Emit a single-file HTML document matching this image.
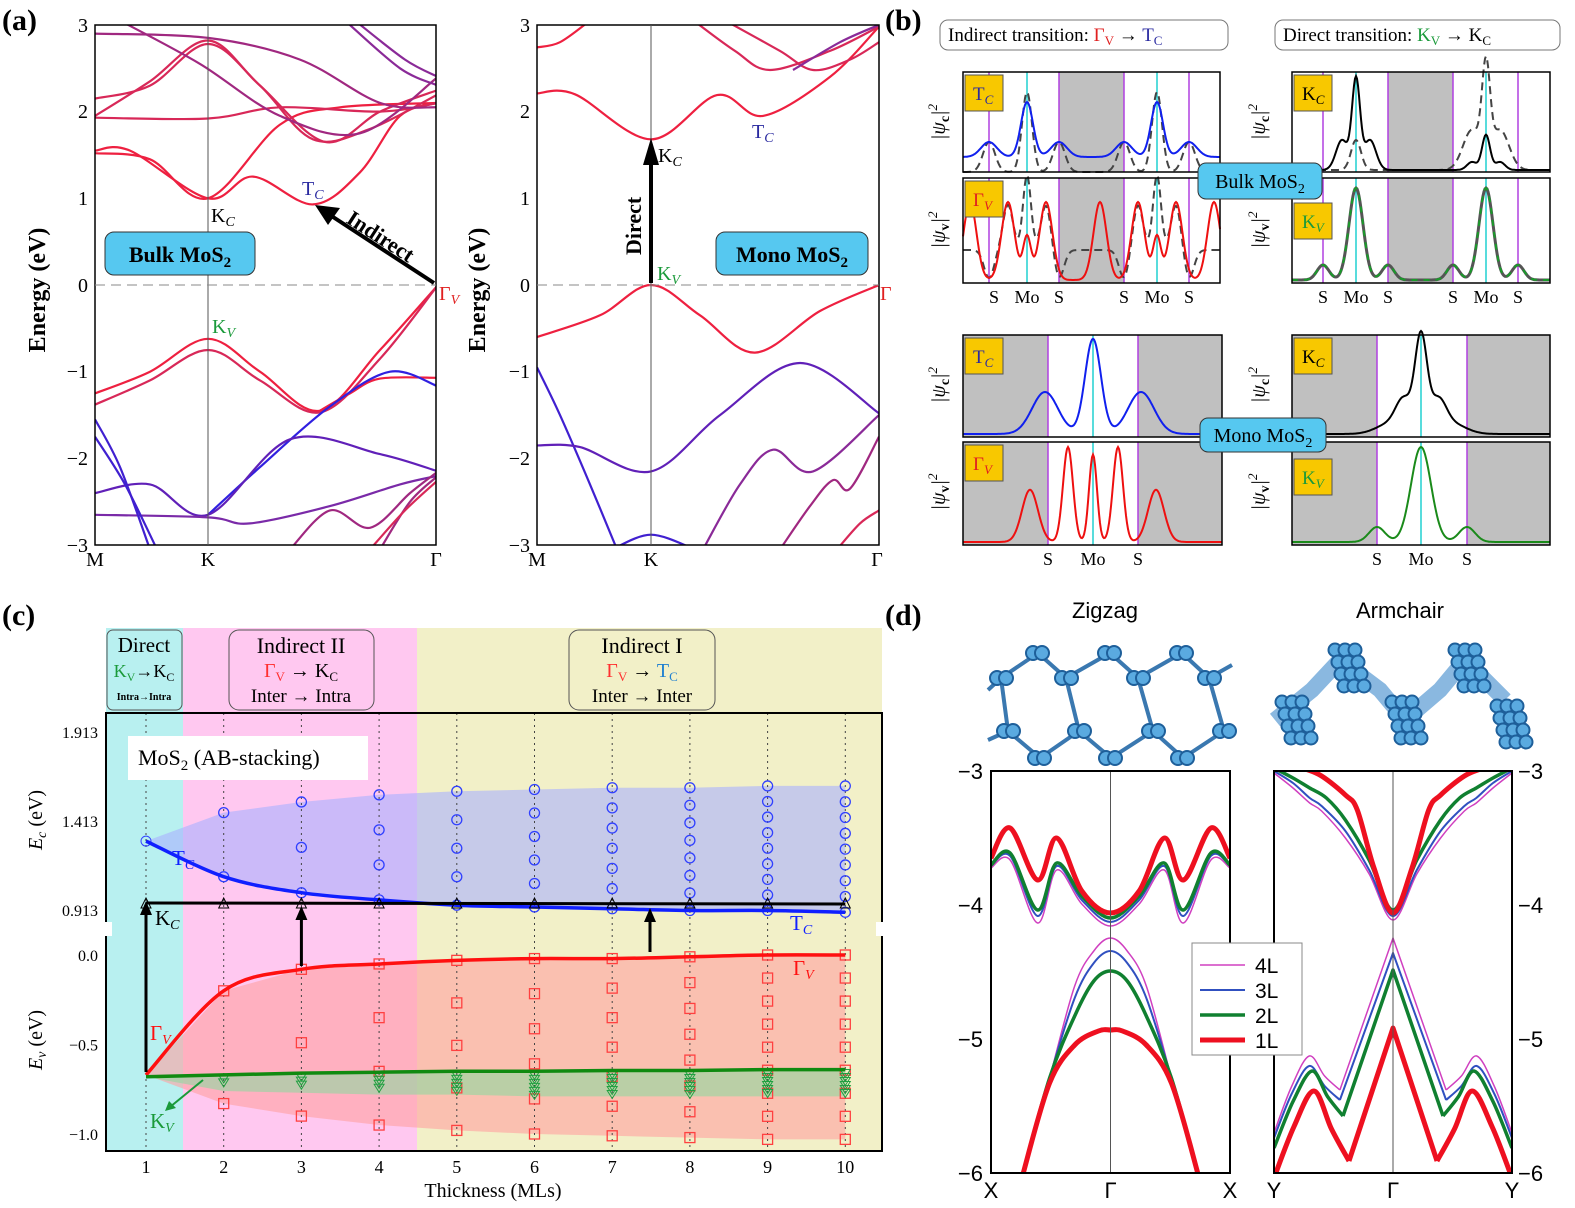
<!DOCTYPE html>
<html><head><meta charset="utf-8"><style>
html,body{margin:0;padding:0;background:#fff}
svg{display:block;font-family:"Liberation Serif",serif}
</style></head><body>
<svg id="s" width="1575" height="1208" viewBox="0 0 1575 1208" xmlns="http://www.w3.org/2000/svg">
<defs>
<clipPath id="caL"><rect x="95" y="25" width="341" height="520"/></clipPath>
<clipPath id="caR"><rect x="537" y="25" width="342" height="520"/></clipPath>
</defs>
<rect width="1575" height="1208" fill="#fff"/>
<text x="2" y="30" font-size="30" font-weight="bold">(a)</text>
<text x="885" y="30" font-size="30" font-weight="bold">(b)</text>
<text x="2" y="625" font-size="30" font-weight="bold">(c)</text>
<text x="885" y="625" font-size="30" font-weight="bold">(d)</text>

<!-- (a) left -->
<g id="aL" clip-path="url(#caL)"></g>
<rect x="95" y="25" width="341" height="520" fill="none" stroke="#000" stroke-width="1.5"/>
<line x1="208" y1="25" x2="208" y2="545" stroke="#555"/>
<line x1="95" y1="285" x2="436" y2="285" stroke="#888" stroke-dasharray="10,6"/>
<g font-size="20" text-anchor="end">
<text x="88" y="32">3</text><text x="88" y="118">2</text><text x="88" y="205">1</text><text x="88" y="292">0</text>
<text x="88" y="378">−1</text><text x="88" y="465">−2</text><text x="88" y="552">−3</text></g>
<g font-size="20" text-anchor="middle"><text x="95" y="566">M</text><text x="208" y="566">K</text><text x="436" y="566">Γ</text></g>
<text transform="translate(45,290) rotate(-90)" font-size="24" font-weight="bold" text-anchor="middle">Energy (eV)</text>
<rect x="105" y="232" width="150" height="43" rx="9" fill="#56c8f0" stroke="#333"/>
<text x="180" y="262" font-size="22" font-weight="bold" text-anchor="middle">Bulk MoS<tspan font-size="15" dy="5">2</tspan></text>
<text x="211" y="222" font-size="20">K<tspan font-size="14" font-style="italic" dy="4">C</tspan></text>
<text x="302" y="195" font-size="20" fill="#2a2aa0">T<tspan font-size="14" font-style="italic" dy="4">C</tspan></text>
<text x="212" y="333" font-size="20" fill="#1a9a3a">K<tspan font-size="14" font-style="italic" dy="4">V</tspan></text>
<text x="439" y="300" font-size="20" fill="#e02020">Γ<tspan font-size="14" font-style="italic" dy="4">V</tspan></text>
<line x1="434" y1="283" x2="330" y2="215" stroke="#000" stroke-width="4"/>
<polygon points="315,205 340,208 328,225" fill="#000"/>
<text transform="translate(345,222) rotate(33)" font-size="22" font-weight="bold">Indirect</text>

<!-- (a) right -->
<g id="aR" clip-path="url(#caR)"></g>
<rect x="537" y="25" width="342" height="520" fill="none" stroke="#000" stroke-width="1.5"/>
<line x1="651" y1="25" x2="651" y2="545" stroke="#555"/>
<line x1="537" y1="285" x2="879" y2="285" stroke="#888" stroke-dasharray="10,6"/>
<g font-size="20" text-anchor="end">
<text x="530" y="32">3</text><text x="530" y="118">2</text><text x="530" y="205">1</text><text x="530" y="292">0</text>
<text x="530" y="378">−1</text><text x="530" y="465">−2</text><text x="530" y="552">−3</text></g>
<g font-size="20" text-anchor="middle"><text x="537" y="566">M</text><text x="651" y="566">K</text><text x="877" y="566">Γ</text></g>
<text x="880" y="300" font-size="20" fill="#e02020">Γ</text>
<text transform="translate(485,290) rotate(-90)" font-size="24" font-weight="bold" text-anchor="middle">Energy (eV)</text>
<rect x="716" y="232" width="152" height="43" rx="9" fill="#56c8f0" stroke="#333"/>
<text x="792" y="262" font-size="22" font-weight="bold" text-anchor="middle">Mono MoS<tspan font-size="15" dy="5">2</tspan></text>
<line x1="651" y1="283" x2="651" y2="160" stroke="#000" stroke-width="4"/>
<polygon points="643,165 659,165 651,138" fill="#000"/>
<text transform="translate(641,255) rotate(-90)" font-size="22" font-weight="bold">Direct</text>
<text x="658" y="162" font-size="20">K<tspan font-size="14" font-style="italic" dy="4">C</tspan></text>
<text x="657" y="280" font-size="20" fill="#1a9a3a">K<tspan font-size="14" font-style="italic" dy="4">V</tspan></text>
<text x="752" y="138" font-size="20" fill="#2a2aa0">T<tspan font-size="14" font-style="italic" dy="4">C</tspan></text>

<!-- (b) -->
<rect x="940" y="20" width="288" height="30" rx="8" fill="#fff" stroke="#777"/>
<text x="948" y="41" font-size="19">Indirect transition: <tspan fill="#e02020">Γ<tspan font-size="13" dy="4">V</tspan></tspan><tspan dy="-4"> → </tspan><tspan fill="#2a2aa0">T<tspan font-size="13" dy="4">C</tspan></tspan></text>
<rect x="1275" y="20" width="285" height="30" rx="8" fill="#fff" stroke="#777"/>
<text x="1283" y="41" font-size="19">Direct transition: <tspan fill="#1a9a3a">K<tspan font-size="13" dy="4">V</tspan></tspan><tspan dy="-4"> → K</tspan><tspan font-size="13" dy="4">C</tspan></text>
<g id="b"></g>
<g id="c"></g>
<g id="d"></g>
</svg>
<script>
var NS="http://www.w3.org/2000/svg";
function el(g,tag,at,txt){var e=document.createElementNS(NS,tag);for(var k in at)e.setAttribute(k,at[k]);if(txt!==undefined)e.textContent=txt;g.appendChild(e);return e;}
function fpath(f,x0,x1,st){var d="";for(var x=x0;x<=x1+1e-6;x+=st){d+=(d?"L":"M")+x.toFixed(1)+","+f(x).toFixed(1);}return d;}
function pl(pts){return "M"+pts.map(function(p){return p[0].toFixed(1)+","+p[1].toFixed(1)}).join("L");}
function sm(pts){
 var d="M"+pts[0][0].toFixed(1)+","+pts[0][1].toFixed(1);
 for(var i=0;i<pts.length-1;i++){var p0=pts[i-1]||pts[i],p1=pts[i],p2=pts[i+1],p3=pts[i+2]||p2;
 d+="C"+(p1[0]+(p2[0]-p0[0])/6).toFixed(1)+","+(p1[1]+(p2[1]-p0[1])/6).toFixed(1)+" "+(p2[0]-(p3[0]-p1[0])/6).toFixed(1)+","+(p2[1]-(p3[1]-p1[1])/6).toFixed(1)+" "+p2[0].toFixed(1)+","+p2[1].toFixed(1);}
 return d;}
function G(x,m,s){return Math.exp(-(x-m)*(x-m)/(2*s*s));}

// (a)
function yA(E){return 285-86.7*E;}
var aL=document.getElementById("aL"),aR=document.getElementById("aR");
function band(g,xs,Es,col,w){el(g,"path",{d:sm(xs.map(function(x,i){return[x,yA(Es[i])]})),fill:"none",stroke:col,"stroke-width":w||2.2});}
var R="#ee2040",R2="#d82858",P="#a02880",P2="#8a2a98",B="#4020d0",B2="#6020b8";
band(aL,[95,130,208,253,313,360,400,438],[1.55,1.55,1.0,1.25,0.93,1.3,1.95,2.1],R);
band(aL,[95,150,208,280,340,438],[1.52,1.45,1.0,1.85,2.05,2.1],R);
band(aL,[95,150,208,260,313,370,438],[2.15,2.3,2.78,2.3,1.68,1.8,2.2],R2);
band(aL,[95,150,208,260,325,380,438],[1.95,2.35,2.82,2.3,1.65,2.0,2.25],R2);
band(aL,[95,208,280,380,438],[1.93,1.92,2.05,2.0,2.1],R2);
band(aL,[120,200,280,360,438],[3.05,2.55,1.95,1.75,2.4],P);
band(aL,[95,208,300,380,438],[2.9,2.85,2.6,2.1,2.05],P);
band(aL,[345,400,438],[3.05,2.5,2.3],P2);
band(aL,[355,405,438],[3.05,2.6,2.4],P2);
band(aL,[95,150,208,260,320,380,438],[-1.25,-1.0,-0.62,-1.0,-1.45,-0.75,0],R);
band(aL,[95,150,208,260,320,380,438],[-1.38,-1.1,-0.75,-1.1,-1.47,-0.85,0],R2);
band(aL,[320,350,380,438],[-1.45,-1.25,-1.08,-1.07],R);
band(aL,[208,260,330,390,438],[-2.65,-2.1,-1.4,-1.0,-1.17],"#3020e0");
band(aL,[95,150,208,290,380,438],[-2.4,-2.3,-2.65,-1.78,-1.95,-2.15],B2);
band(aL,[95,208,250,330,400,438],[-2.65,-2.68,-2.75,-2.55,-2.3,-2.2],"#7a2aa8");
band(aL,[95,120,150],[-1.55,-2.1,-3.05],B);
band(aL,[95,125,157],[-1.75,-2.3,-3.05],B);
band(aL,[290,330,370,410,438],[-3.05,-2.6,-2.8,-2.4,-2.15],P);
band(aL,[380,410,438],[-3.05,-2.5,-2.2],P);
band(aL,[370,405,438],[-3.05,-2.6,-2.25],R2);

band(aR,[537,575,651,717,763,830,879],[2.21,2.2,1.68,2.19,1.95,2.4,2.98],R);
band(aR,[537,560,590],[2.74,2.8,3.05],R);
band(aR,[697,735,770,830,879],[3.02,2.7,2.48,2.7,2.98],R2);
band(aR,[730,780,813,850,879],[3.02,2.7,2.48,2.6,2.8],R2);
band(aR,[793,840,879],[2.48,2.8,3.0],P2);
band(aR,[537,600,651,700,755,820,879],[-0.6,-0.35,0,-0.35,-0.78,-0.3,0],R);
band(aR,[537,560,590,617],[-0.95,-1.5,-2.3,-3.05],B);
band(aR,[612,651,695],[-3.05,-2.88,-3.05],B);
band(aR,[537,580,651,720,800,879],[-1.85,-1.87,-2.15,-1.5,-0.9,-1.48],B2);
band(aR,[703,740,773,813,879],[-3.05,-2.3,-1.9,-2.15,-1.5],P2);
band(aR,[780,810,833,850,879],[-3.05,-2.55,-2.25,-2.35,-1.75],P);
band(aR,[837,860,879],[-3.05,-2.75,-2.6],R2);

// (b)
var b=document.getElementById("b");
function box(x0,y0,w,h,grays,purples,cyans,curves,lab,labcol,ly){
 grays.forEach(function(g){el(b,"rect",{x:g[0],y:y0,width:g[1]-g[0],height:h,fill:"#c0c0c0"})});
 purples.forEach(function(p){el(b,"line",{x1:p,y1:y0,x2:p,y2:y0+h,stroke:"#b040e0","stroke-width":1.5})});
 cyans.forEach(function(p){el(b,"line",{x1:p,y1:y0,x2:p,y2:y0+h,stroke:"#20d0d0","stroke-width":1.5})});
 curves.forEach(function(c){el(b,"path",{d:fpath(c.f,x0,x0+w,1),fill:"none",stroke:c.col,"stroke-width":c.w||2,"stroke-dasharray":c.da||"none"})});
 el(b,"rect",{x:x0,y:y0,width:w,height:h,fill:"none",stroke:"#000","stroke-width":1.5});
 var yy=y0+3+(ly||0);
 el(b,"rect",{x:x0+2,y:yy,width:38,height:36,fill:"#f8c800",stroke:"#555"});
 var t=el(b,"text",{x:x0+10,y:yy+25,"font-size":19,fill:labcol});t.innerHTML=lab;
}
function ylab(x,y,sub){var t=el(b,"text",{transform:"translate("+x+","+y+") rotate(-90)","font-size":20,"text-anchor":"middle","font-style":"italic"});t.innerHTML='|ψ<tspan font-size="14" font-weight="bold" font-style="normal" dy="4">'+sub+'</tspan><tspan dy="-4">|</tspan><tspan font-size="13" dy="-8">2</tspan>';}
function ticks(xs,names,y){xs.forEach(function(x,i){el(b,"text",{x:x,y:y,"font-size":18,"text-anchor":"middle"},names[i])});}
var S1=[989,1059,1124,1189],M1=[1027,1157];
function tc(x){return 157-55*(G(x,1027,6)+G(x,1157,6))-15*(G(x,989,8)+G(x,1059,8)+G(x,1124,8)+G(x,1189,8));}
function tcd(x){return 172-80*(G(x,1027,5)+G(x,1157,5))-30*(G(x,989,6)+G(x,1059,6)+G(x,1124,6)+G(x,1189,6));}
box(963,72,257,100,[[1059,1124]],S1,M1,[{f:tcd,col:"#444",da:"8,5"},{f:tc,col:"#1020ee"}],'T<tspan font-size="13" font-style="italic" dy="4">C</tspan>',"#2a2aa0");
function gv(x){var s=0;[970,1008,1046,1100,1138,1176,1214].forEach(function(m){s+=G(x,m,6.5);});s+=0.55*(G(x,1027,4)+G(x,1157,4));return 280-78*Math.min(s,1.05);}
function gvd(x){return 250-75*(G(x,1027,4)+G(x,1157,4))-45*(G(x,1008,5)+G(x,1046,5)+G(x,1138,5)+G(x,1176,5))+28*(G(x,989,5)+G(x,1059,5)+G(x,1124,5)+G(x,1189,5));}
box(963,178,257,105,[[1059,1124]],S1,M1,[{f:gvd,col:"#444",da:"8,5"},{f:gv,col:"#ee1010"}],'Γ<tspan font-size="13" font-style="italic" dy="4">V</tspan>',"#e02020");
ylab(945,122,"c");ylab(945,230,"v");
ticks([994,1027,1059,1124,1157,1189],["S","Mo","S","S","Mo","S"],303);
var S2=[1323,1388,1453,1518],M2=[1356,1486];
function kc(x){return 170-90*G(x,1356,4)-30*(G(x,1342,6)+G(x,1370,6))-35*G(x,1486,4)-8*(G(x,1472,5)+G(x,1500,5));}
function kcd(x){return 170-30*G(x,1356,5)-90*G(x,1486,4)-40*(G(x,1472,9)+G(x,1500,9));}
box(1292,72,258,100,[[1388,1453]],S2,M2,[{f:kcd,col:"#444",da:"8,5"},{f:kc,col:"#000"}],'K<tspan font-size="13" font-style="italic" dy="4">C</tspan>',"#000");
function kv(x){return 280-92*(G(x,1356,7)+G(x,1486,7))-15*(G(x,1323,6)+G(x,1388,6)+G(x,1453,6)+G(x,1518,6));}
box(1292,178,258,105,[[1388,1453]],S2,M2,[{f:kv,col:"#555",w:3},{f:kv,col:"#1a9a2a",da:"6,6"}],'K<tspan font-size="13" font-style="italic" dy="4">V</tspan>',"#1a9a3a",22);
ylab(1265,122,"c");ylab(1265,230,"v");
ticks([1323,1356,1388,1453,1486,1518],["S","Mo","S","S","Mo","S"],303);
function tcm(x){return 434-95*G(x,1093,8)-42*(G(x,1045,13)+G(x,1141,13));}
box(963,335,259,102,[[963,1048],[1138,1222]],[1048,1138],[1093],[{f:tcm,col:"#1020ee"}],'T<tspan font-size="13" font-style="italic" dy="4">C</tspan>',"#2a2aa0");
function gvm(x){return 542-95*(0.55*G(x,1030,8)+1.0*G(x,1068,5)+0.92*G(x,1093,4)+1.0*G(x,1118,5)+0.55*G(x,1156,8));}
box(963,442,259,103,[[963,1048],[1138,1222]],[1048,1138],[1093],[{f:gvm,col:"#ee1010"}],'Γ<tspan font-size="13" font-style="italic" dy="4">V</tspan>',"#e02020");
ylab(945,385,"c");ylab(945,492,"v");
ticks([1048,1093,1138],["S","Mo","S"],565);
function kcm(x){return 434-95*G(x,1421,6)-30*(G(x,1404,8)+G(x,1438,8))-10*(G(x,1390,14)+G(x,1452,14));}
box(1292,335,258,102,[[1292,1377],[1467,1550]],[1377,1467],[1421],[{f:kcm,col:"#000"}],'K<tspan font-size="13" font-style="italic" dy="4">C</tspan>',"#000");
function kvm(x){return 542-95*G(x,1421,10)-15*(G(x,1377,8)+G(x,1467,8));}
box(1292,442,258,103,[[1292,1377],[1467,1550]],[1377,1467],[1421],[{f:kvm,col:"#1a8a1a"}],'K<tspan font-size="13" font-style="italic" dy="4">V</tspan>',"#1a9a3a",14);
ylab(1265,385,"c");ylab(1265,492,"v");
ticks([1377,1421,1467],["S","Mo","S"],565);
el(b,"rect",{x:1198,y:163,width:124,height:36,rx:8,fill:"#56c8f0",stroke:"#333"});
var t=el(b,"text",{x:1260,y:188,"font-size":20,"text-anchor":"middle"});t.innerHTML='Bulk MoS<tspan font-size="14" dy="5">2</tspan>';
el(b,"rect",{x:1200,y:418,width:126,height:34,rx:8,fill:"#56c8f0",stroke:"#333"});
t=el(b,"text",{x:1263,y:442,"font-size":20,"text-anchor":"middle"});t.innerHTML='Mono MoS<tspan font-size="14" dy="5">2</tspan>';

// (c)
var c=document.getElementById("c");
var BOT=1151;
function xc(n){return 146+(n-1)*77.7;}
function yc(E){return 910-(E-0.913)*178;}
function yv(E){return 955-E*179;}
el(c,"rect",{x:106,y:628,width:77,height:BOT-628,fill:"#b8f0f0"});
el(c,"rect",{x:183,y:628,width:234,height:BOT-628,fill:"#ffc8f0"});
el(c,"rect",{x:417,y:628,width:465,height:BOT-628,fill:"#f2f0c8"});
var Tc=[1.30,1.10,1.01,0.97,0.94,0.93,0.92,0.91,0.91,0.90];
var Tt=[1.30,1.46,1.52,1.56,1.58,1.59,1.60,1.60,1.61,1.61];
var Gv=[-0.67,-0.2,-0.08,-0.05,-0.03,-0.02,-0.02,-0.01,0,0];
var Gb=[-0.67,-0.83,-0.9,-0.95,-0.98,-1.0,-1.01,-1.02,-1.03,-1.03];
var Kv=[-0.68,-0.67,-0.66,-0.655,-0.65,-0.65,-0.645,-0.645,-0.64,-0.64];
var Kb=[-0.68,-0.76,-0.77,-0.78,-0.78,-0.79,-0.79,-0.79,-0.79,-0.79];
function area(top,bot,fy,col,op){var pts=[];for(var i=0;i<10;i++)pts.push([xc(i+1),fy(top[i])]);for(i=9;i>=0;i--)pts.push([xc(i+1),fy(bot[i])]);el(c,"path",{d:pl(pts)+"Z",fill:col,"fill-opacity":op});}
area(Tt,Tc,yc,"#a8b0ff",0.6);
area(Gv,Gb,yv,"#ffa0a0",0.6);
area(Kv,Kb,yv,"#90d8a0",0.6);
for(var n=1;n<=10;n++){el(c,"line",{x1:xc(n),y1:713,x2:xc(n),y2:BOT,stroke:"#444","stroke-dasharray":"2,4"});
 el(c,"text",{x:xc(n),y:1173,"font-size":18,"text-anchor":"middle"},n);}
for(n=2;n<=10;n++){var k=Math.min(n,9);for(var j=0;j<k;j++){var E=Tc[n-1]+(Tt[n-1]-Tc[n-1])*j/(k-1);el(c,"circle",{cx:xc(n),cy:yc(E),r:5,fill:"none",stroke:"#3040ff","stroke-width":1.3});}
 for(j=0;j<k;j++){var E2=Gv[n-1]+(Gb[n-1]-Gv[n-1])*j/(k-1);el(c,"rect",{x:xc(n)-5,y:yv(E2)-5,width:10,height:10,fill:"none",stroke:"#ff4040","stroke-width":1.3});}
 for(j=0;j<Math.min(n,6);j++){el(c,"path",{d:"M"+(xc(n)-5)+","+(yv(Kv[n-1])+j*4)+"l10,0l-5,8z",fill:"none",stroke:"#20a040"});}}
el(c,"circle",{cx:xc(1),cy:yc(1.3),r:5,fill:"none",stroke:"#3040ff"});
el(c,"path",{d:sm(Tc.map(function(E,i){return[xc(i+1),yc(E)]})),fill:"none",stroke:"#1020ff","stroke-width":3.5});
el(c,"line",{x1:xc(1),y1:903,x2:xc(10),y2:904,stroke:"#000","stroke-width":3});
for(n=1;n<=10;n++)el(c,"path",{d:"M"+(xc(n)-5)+",908l10,0l-5,-10z",fill:"none",stroke:"#000"});
el(c,"path",{d:sm(Gv.map(function(E,i){return[xc(i+1),yv(E)]})),fill:"none",stroke:"#ff1010","stroke-width":3.5});
el(c,"path",{d:pl(Kv.map(function(E,i){return[xc(i+1),yv(E)]})),fill:"none",stroke:"#108a10","stroke-width":3.5});
el(c,"rect",{x:106,y:713,width:776,height:BOT-713,fill:"none",stroke:"#000","stroke-width":2});
el(c,"rect",{x:100,y:922,width:12,height:14,fill:"#fff"});
el(c,"rect",{x:876,y:922,width:12,height:14,fill:"#fff"});
[[1.913,"1.913"],[1.413,"1.413"],[0.913,"0.913"]].forEach(function(a){el(c,"text",{x:98,y:yc(a[0])+6,"font-size":16,"text-anchor":"end"},a[1]);});
[[0,"0.0"],[-0.5,"−0.5"],[-1,"−1.0"]].forEach(function(a){el(c,"text",{x:98,y:yv(a[0])+6,"font-size":16,"text-anchor":"end"},a[1]);});
t=el(c,"text",{transform:"translate(42,820) rotate(-90)","font-size":20,"text-anchor":"middle","font-style":"italic"});t.innerHTML='E<tspan font-size="14" dy="4">c</tspan><tspan font-style="normal" dy="-4"> (eV)</tspan>';
t=el(c,"text",{transform:"translate(42,1040) rotate(-90)","font-size":20,"text-anchor":"middle","font-style":"italic"});t.innerHTML='E<tspan font-size="14" dy="4">v</tspan><tspan font-style="normal" dy="-4"> (eV)</tspan>';
el(c,"text",{x:493,y:1197,"font-size":20,"text-anchor":"middle"},"Thickness (MLs)");
el(c,"rect",{x:107,y:630,width:75,height:80,rx:6,fill:"#b8f0f0",stroke:"#555"});
el(c,"text",{x:144,y:652,"font-size":21,"text-anchor":"middle"},"Direct");
t=el(c,"text",{x:144,y:677,"font-size":18,"text-anchor":"middle"});t.innerHTML='<tspan fill="#1a9a3a">K<tspan font-size="12" dy="4">V</tspan></tspan><tspan dy="-4">→K</tspan><tspan font-size="12" dy="4">C</tspan>';
el(c,"text",{x:144,y:700,"font-size":10,"text-anchor":"middle","font-weight":"bold"},"Intra→Intra");
el(c,"rect",{x:229,y:630,width:145,height:80,rx:10,fill:"#ffc8f0",stroke:"#555"});
el(c,"text",{x:301,y:653,"font-size":22,"text-anchor":"middle"},"Indirect II");
t=el(c,"text",{x:301,y:677,"font-size":20,"text-anchor":"middle"});t.innerHTML='<tspan fill="#ff3030">Γ<tspan font-size="13" dy="4">V</tspan></tspan><tspan dy="-4"> → K</tspan><tspan font-size="13" dy="4">C</tspan>';
el(c,"text",{x:301,y:702,"font-size":19,"text-anchor":"middle"},"Inter → Intra");
el(c,"rect",{x:569,y:630,width:146,height:80,rx:10,fill:"#f2f0c8",stroke:"#555"});
el(c,"text",{x:642,y:653,"font-size":22,"text-anchor":"middle"},"Indirect I");
t=el(c,"text",{x:642,y:677,"font-size":20,"text-anchor":"middle"});t.innerHTML='<tspan fill="#ff3030">Γ<tspan font-size="13" dy="4">V</tspan></tspan><tspan dy="-4"> → </tspan><tspan fill="#2080d0">T<tspan font-size="13" dy="4">C</tspan></tspan>';
el(c,"text",{x:642,y:702,"font-size":19,"text-anchor":"middle"},"Inter → Inter");
el(c,"rect",{x:128,y:736,width:240,height:44,fill:"#fff"});
t=el(c,"text",{x:138,y:765,"font-size":22});t.innerHTML='MoS<tspan font-size="15" dy="5">2</tspan><tspan dy="-5"> (AB-stacking)</tspan>';
function arr(x,y1,y2){el(c,"line",{x1:x,y1:y1,x2:x,y2:y2+10,stroke:"#000","stroke-width":3});el(c,"path",{d:"M"+(x-6)+","+(y2+12)+"l12,0l-6,-14z",fill:"#000"});}
arr(xc(1),1072,903);arr(xc(3),966,908);arr(650,952,910);
t=el(c,"text",{x:155,y:925,"font-size":21});t.innerHTML='K<tspan font-size="14" font-style="italic" dy="4">C</tspan>';
t=el(c,"text",{x:172,y:865,"font-size":21,fill:"#1020ff"});t.innerHTML='T<tspan font-size="14" font-style="italic" dy="4">C</tspan>';
t=el(c,"text",{x:790,y:930,"font-size":21,fill:"#1020ff"});t.innerHTML='T<tspan font-size="14" font-style="italic" dy="4">C</tspan>';
t=el(c,"text",{x:793,y:975,"font-size":21,fill:"#ff1010"});t.innerHTML='Γ<tspan font-size="14" font-style="italic" dy="4">V</tspan>';
t=el(c,"text",{x:150,y:1040,"font-size":21,fill:"#ff1010"});t.innerHTML='Γ<tspan font-size="14" font-style="italic" dy="4">V</tspan>';
t=el(c,"text",{x:150,y:1128,"font-size":21,fill:"#1a9a3a"});t.innerHTML='K<tspan font-size="14" font-style="italic" dy="4">V</tspan>';
el(c,"line",{x1:203,y1:1080,x2:170,y2:1107,stroke:"#1a9a3a","stroke-width":2});
el(c,"path",{d:"M165,1111l4,-10l7,7z",fill:"#1a9a3a"});

// (d)
var d=document.getElementById("d");
el(d,"text",{x:1105,y:618,"font-size":22,"text-anchor":"middle","font-family":"Liberation Sans"},"Zigzag");
el(d,"text",{x:1400,y:618,"font-size":22,"text-anchor":"middle","font-family":"Liberation Sans"},"Armchair");
// zigzag structure
var bonds="";
var tp=[1038,1110,1182],um=[1001,1066,1138,1209],lm=[1008,1079,1153,1224],bt=[1040,1111,1183];
for(var i=0;i<3;i++){bonds+="M"+um[i]+",678L"+tp[i]+",653L"+um[i+1]+",678 ";bonds+="M"+lm[i]+",731L"+bt[i]+",758L"+lm[i+1]+",731 ";}
for(i=0;i<4;i++)bonds+="M"+um[i]+",678L"+lm[i]+",731 ";
bonds+="M988,690L1001,678 M1209,678L1232,665 M988,740L1008,731 M1224,731L1232,726";
el(d,"path",{d:bonds,stroke:"#3a78b0","stroke-width":4,fill:"none"});
function atom(x,y,r){el(d,"circle",{cx:x,cy:y,r:r||7,fill:"#5aaae0",stroke:"#1e5f9a","stroke-width":2});}
tp.forEach(function(x){atom(x-5,653);atom(x+4,653);});
um.forEach(function(x){atom(x-4,678);atom(x+5,678);});
lm.forEach(function(x){atom(x-4,731);atom(x+5,731);});
bt.forEach(function(x){atom(x-5,758);atom(x+4,758);});
// armchair structure
el(d,"path",{d:"M1275,720L1312,690L1340,660L1380,690L1405,720L1440,690L1465,660L1505,700",stroke:"#8ab8e0","stroke-width":16,fill:"none"});
function cluster(x0,y0){for(var a=0;a<4;a++)for(var b2=0;b2<3;b2++)atom(x0+b2*10+a*3,y0+a*12,6.5);}
cluster(1335,650);cluster(1455,650);cluster(1282,702);cluster(1392,702);cluster(1497,706);
// band plots
var LX0=991,LX1=1230,RX0=1274,RX1=1512,TOP=771,BT=1173;
function yd(E){return TOP+(-3-E)*(BT-TOP)/3;}
var cl=el(d,"clipPath",{id:"cl"});el(cl,"rect",{x:LX0,y:TOP,width:LX1-LX0,height:BT-TOP});
var cr=el(d,"clipPath",{id:"cr"});el(cr,"rect",{x:RX0,y:TOP,width:RX1-RX0,height:BT-TOP});
var gL=el(d,"g",{"clip-path":"url(#cl)"}),gR=el(d,"g",{"clip-path":"url(#cr)"});
var cols={"4L":["#d040c0",1.5],"3L":["#3050c0",2],"2L":["#108030",3.5],"1L":["#ee1020",5]};
function mir(pts,x0,x1){ // pts: [u,y] with u in 0..0.5, y absolute(ref coords 773..1175)
 var full=pts.slice();for(var i=pts.length-2;i>=0;i--)full.push([1-pts[i][0],pts[i][1]]);
 return full.map(function(p){return [x0+p[0]*(x1-x0), TOP+(p[1]-773)*(BT-TOP)/402];});}
function draw(g,pts,x0,x1,L){el(g,"path",{d:sm(mir(pts,x0,x1)),fill:"none",stroke:cols[L][0],"stroke-width":cols[L][1],"stroke-linejoin":"round"});}
// zigzag conduction
var zc={"4L":[870,862,925,872,928],"3L":[868,858,918,868,924],"2L":[867,855,912,865,920],"1L":[860,830,882,840,915]};
var zvv={"4L":[948,940],"3L":[960,953],"2L":[978,973],"1L":[1035,1032]};
["4L","3L","2L","1L"].forEach(function(L){var z=zc[L];
 draw(gL,[[0,z[0]],[0.08,z[1]],[0.195,z[2]],[0.275,z[3]],[0.38,z[4]-22],[0.5,z[4]]],LX0,LX1,L);
 var v=zvv[L];
 var vp=L=="1L"?[[0.1,1210],[0.135,1175],[0.245,1085],[0.35,1047],[0.45,1033],[0.5,1032]]:[[0.1,1210],[0.135,1175],[0.245,1080],[0.35,v[0]+40],[0.43,v[0]+5],[0.5,v[1]]];
 draw(gL,vp,LX0,LX1,L);});
// armchair
var ac={"1L":[[0,760],[0.12,770],[0.2,778],[0.3,797],[0.35,812],[0.42,870],[0.5,915]],
 "2L":[[0,770],[0.08,780],[0.15,790],[0.22,800],[0.3,822],[0.4,862],[0.5,912]],
 "3L":[[0,773],[0.08,785],[0.15,800],[0.2,808],[0.3,833],[0.4,872],[0.5,918]],
 "4L":[[0,775],[0.08,790],[0.15,805],[0.2,813],[0.3,840],[0.4,876],[0.5,922]]};
var av={"1L":[1180,1093,1163,1030],"2L":[1150,1073,1118,972],"3L":[1140,1068,1102,955],"4L":[1135,1058,1092,940]};
["4L","3L","2L","1L"].forEach(function(L){
 draw(gR,ac[L],RX0,RX1,L);
 var a=av[L],um=L=="1L"?0.315:(L=="2L"?0.29:0.277),ub=L=="1L"?0.168:(L=="2L"?0.16:0.148);
 var segL=[[0,a[0]],[ub*0.5,(a[0]+a[1])/2-8],[ub,a[1]],[(ub+um)/2,(a[1]+a[2])/2+3],[um,a[2]]];
 var segR=[[um,a[2]],[0.5,a[3]]];
 var p1=mir(segL.concat([]),RX0,RX1);
 // left part
 var left=segL.map(function(p){return [RX0+p[0]*(RX1-RX0),TOP+(p[1]-773)*(BT-TOP)/402];});
 var right=left.map(function(p){return [RX0+RX1-p[0],p[1]];});
 var mid=[[RX0+um*(RX1-RX0),left[4][1]],[(RX0+RX1)/2,TOP+(a[3]-773)*(BT-TOP)/402],[RX1-um*(RX1-RX0),left[4][1]]];
 el(gR,"path",{d:sm(left),fill:"none",stroke:cols[L][0],"stroke-width":cols[L][1]});
 el(gR,"path",{d:sm(right),fill:"none",stroke:cols[L][0],"stroke-width":cols[L][1]});
 el(gR,"path",{d:pl(mid),fill:"none",stroke:cols[L][0],"stroke-width":cols[L][1],"stroke-linejoin":"round"});
});
var LG=(LX0+LX1)/2,RG=(RX0+RX1)/2;
el(d,"line",{x1:LG,y1:TOP,x2:LG,y2:BT,stroke:"#555"});
el(d,"line",{x1:RG,y1:TOP,x2:RG,y2:BT,stroke:"#555"});
el(d,"rect",{x:LX0,y:TOP,width:LX1-LX0,height:BT-TOP,fill:"none",stroke:"#000","stroke-width":2});
el(d,"rect",{x:RX0,y:TOP,width:RX1-RX0,height:BT-TOP,fill:"none",stroke:"#000","stroke-width":2});
[[-3,"−3"],[-4,"−4"],[-5,"−5"],[-6,"−6"]].forEach(function(a){
 el(d,"text",{x:983,y:yd(a[0])+8,"font-size":22,"text-anchor":"end","font-family":"Liberation Sans"},a[1]);
 el(d,"text",{x:1518,y:yd(a[0])+8,"font-size":22,"font-family":"Liberation Sans"},a[1]);});
[[LX0,"X"],[LG,"Γ"],[LX1,"X"],[RX0,"Y"],[RG,"Γ"],[RX1,"Y"]].forEach(function(a){el(d,"text",{x:a[0],y:1198,"font-size":22,"text-anchor":"middle","font-family":"Liberation Sans"},a[1]);});
el(d,"rect",{x:1192,y:943,width:110,height:112,fill:"#fff",stroke:"#888"});
["4L","3L","2L","1L"].forEach(function(L,i){var y=965+i*25;el(d,"line",{x1:1200,y1:y,x2:1245,y2:y,stroke:cols[L][0],"stroke-width":cols[L][1]});el(d,"text",{x:1255,y:y+8,"font-size":21,"font-family":"Liberation Sans"},L);});
</script>
</body></html>
